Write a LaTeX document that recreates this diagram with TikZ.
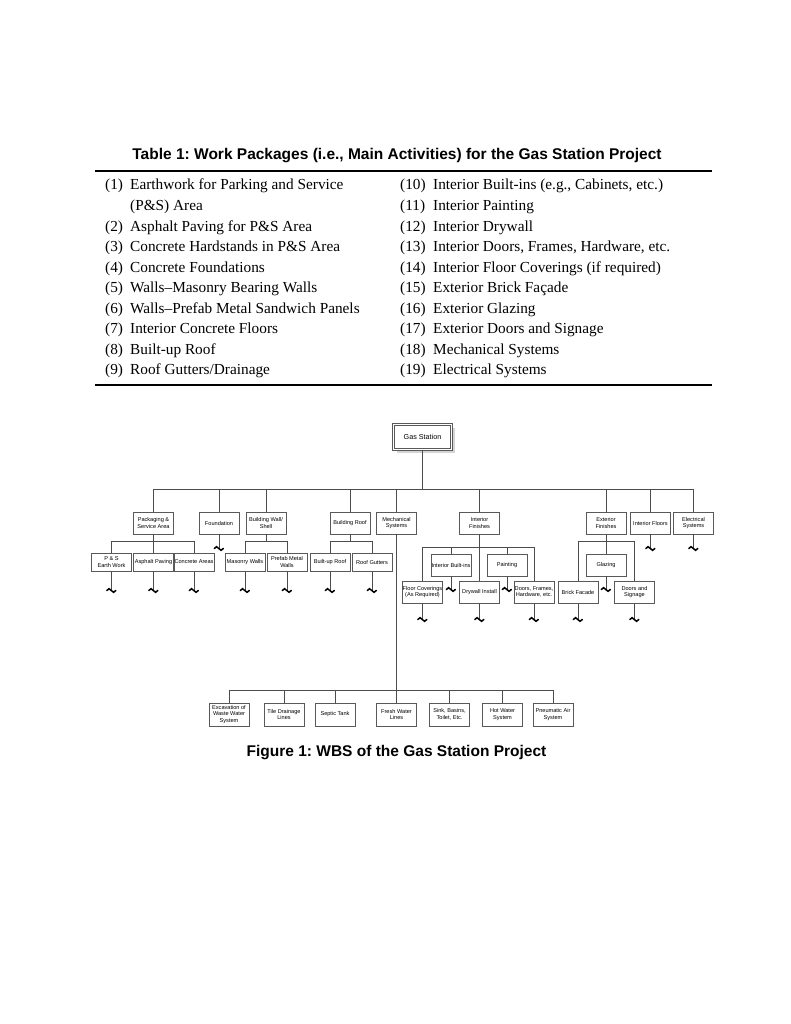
\documentclass[tikz,border=0pt]{standalone}
\usepackage{fontspec}
\setmainfont{Liberation Serif}
\setsansfont{Liberation Sans}
\usepackage{amsmath}
\usepackage{amssymb}
\usetikzlibrary{positioning,shadows}

\tikzset{
  wbs/.style={draw=gray!70!black, line width=0.6pt, fill=white, minimum width=40pt, minimum height=22pt,
    inner sep=0.3pt, align=center, font=\sffamily\fontsize{5.6}{6.4}\selectfont},
  low/.style={minimum height=18pt},
  link/.style={draw=gray!60!black, line width=0.6pt},
  tld/.style={inner sep=0pt, minimum width=9pt, minimum height=4pt},
  wave/.style={line width=1.5pt, line cap=round},
  row/.style={anchor=west, inner sep=0pt, text height=9pt, text depth=3pt, font=\fontsize{15.3}{17}\selectfont},
  head/.style={font=\sffamily\bfseries\fontsize{15.5}{17}\selectfont},
}

\begin{document}
\frenchspacing
\begin{tikzpicture}[x=1pt, y=-1pt]
\useasboundingbox[fill=white] (0,0) rectangle (791,1024);

% table of work packages
\node[head] (ttl) at (397,156)
  {Table 1: Work Packages (i.e., Main Activities) for the Gas Station Project};
\draw[line width=2pt] (95,171) -- (712,171);
\draw[line width=2.5pt] (95,385) -- (712,385);
\foreach \n/\t [count=\k from 0] in {(1)/{Earthwork for Parking and Service}, /{(P\&S) Area},
    (2)/{Asphalt Paving for P\&S Area}, (3)/{Concrete Hardstands in P\&S Area},
    (4)/{Concrete Foundations}, (5)/{Walls--Masonry Bearing Walls},
    (6)/{Walls--Prefab Metal Sandwich Panels}, (7)/{Interior Concrete Floors},
    (8)/{Built-up Roof}, (9)/{Roof Gutters/Drainage}}{
  \node[row] (ln\k) at (105,{187+20.55*\k}) {\n};
  \node[row] (lt\k) at (130,{187+20.55*\k}) {\t};
}
\foreach \n/\t [count=\k from 0] in {(10)/{Interior Built-ins (e.g., Cabinets, etc.)}, (11)/{Interior Painting},
    (12)/{Interior Drywall}, (13)/{Interior Doors, Frames, Hardware, etc.},
    (14)/{Interior Floor Coverings (if required)}, (15)/{Exterior Brick Façade},
    (16)/{Exterior Glazing}, (17)/{Exterior Doors and Signage},
    (18)/{Mechanical Systems}, (19)/{Electrical Systems}}{
  \node[row] (rn\k) at (400,{187+20.55*\k}) {\n};
  \node[row] (rt\k) at (433,{187+20.55*\k}) {\t};
}

% WBS
\node[wbs, double, double distance=1pt, minimum width=58pt, minimum height=25pt,
  drop shadow={shadow xshift=3pt, shadow yshift=-3pt, fill=gray!65},
  font=\sffamily\fontsize{7.2}{8}\selectfont] (gs) at (422.5,437) {Gas Station};

\node[wbs] (pa) at (153.5,523) {Packaging \&\\Service Area};
\node[wbs] (fd) at (219,523) {Foundation};
\node[wbs] (bw) at (266,523) {Building Wall/\\Shell};
\node[wbs] (br) at (350,523) {Building Roof};
\node[wbs] (ms) at (396.5,523) {Mechanical\\Systems};
\node[wbs] (inf) at (479.5,523) {Interior\\Finishes};
\node[wbs] (ef) at (606,523) {Exterior\\Finishes};
\node[wbs] (ifl) at (650.5,523) {Interior Floors};
\node[wbs] (es) at (693.5,523) {Electrical\\Systems};

\node[wbs, low] (pse) at (111.5,562) {P \& S\\Earth Work};
\node[wbs, low] (ap) at (153.5,562) {Asphalt Paving};
\node[wbs, low] (ca) at (194,562) {Concrete Areas};
\node[wbs, low] (mw) at (245,562) {Masonry Walls};
\node[wbs, low] (pm) at (287,562) {Prefab Metal\\Walls};
\node[wbs, low] (bu) at (330,562) {Built-up Roof};
\node[wbs, low] (rg) at (372,562) {Roof Gutters};

\node[wbs] (ib) at (451,565) {Interior Built-ins};
\node[wbs] (pt) at (507,565) {Painting};
\node[wbs] (fc) at (422.5,592) {Floor Coverings\\(As Required)};
\node[wbs] (dw) at (479.5,592) {Drywall Install};
\node[wbs] (dfh) at (534,592) {Doors, Frames,\\Hardware, etc.};

\node[wbs] (gz) at (606,565) {Glazing};
\node[wbs] (bf) at (578,592) {Brick Facade};
\node[wbs] (ds) at (634.5,592) {Doors and\\Signage};

\node[wbs, minimum height=23pt] (ex) at (229,714.5) {Excavation of\\Waste Water\\System};
\node[wbs, minimum height=23pt] (td) at (284,714.5) {Tile Drainage\\Lines};
\node[wbs, minimum height=23pt] (st) at (335,714.5) {Septic Tank};
\node[wbs, minimum height=23pt] (fw) at (396.5,714.5) {Fresh Water\\Lines};
\node[wbs, minimum height=23pt] (sb) at (449.5,714.5) {Sink, Basins,\\Toilet, Etc.};
\node[wbs, minimum height=23pt] (hw) at (502.5,714.5) {Hot Water\\System};
\node[wbs, minimum height=23pt] (pn) at (553,714.5) {Pneumatic Air\\System};

% buses
\coordinate (bus0) at (0,489);
\coordinate (bus1) at (0,541.5);
\coordinate (bus2) at (0,547);
\coordinate (bus3) at (0,690);
\draw[link] (gs.south) -- (gs.south |- bus0);
\foreach \c in {pa,fd,bw,br,ms,inf,ef,ifl,es}
  \draw[link] (\c.north) |- (gs.south |- bus0);
\draw[link] (pa) -- (ap);
\foreach \c in {pse,ca}
  \draw[link] (\c.north) |- (pa.south |- bus1);
\draw[link] (bw.south) -- (bw.south |- bus1);
\foreach \c in {mw,pm}
  \draw[link] (\c.north) |- (bw.south |- bus1);
\draw[link] (br.south) -- (br.south |- bus1);
\foreach \c in {bu,rg}
  \draw[link] (\c.north) |- (br.south |- bus1);
\draw[link] (inf) -- (dw);
\foreach \c in {fc,ib,pt,dfh}
  \draw[link] (\c.north) |- (inf.south |- bus2);
\draw[link] (ef) -- (gz);
\foreach \c in {bf,ds}
  \draw[link] (\c.north) |- (ef.south |- bus1);
\draw[link] (ms) -- (fw);
\foreach \c in {ex,td,st,sb,hw,pn}
  \draw[link] (\c.north) |- (ms.south |- bus3);

% open ends
\foreach \c/\d in {pse/17pt,ap/17pt,ca/17pt,mw/17pt,pm/17pt,bu/17pt,rg/17pt,
    fd/12pt,ifl/12pt,es/12pt,ib/11pt,pt/11pt,gz/11pt,
    fc/14pt,dw/14pt,dfh/14pt,bf/14pt,ds/14pt}{
  \node[tld, below=\d of \c] (t\c) {};
  \draw[link] (\c) -- (t\c.center);
  \draw[wave] (t\c.west) sin ++(2.25pt,1.8pt) cos ++(2.25pt,-1.8pt)
    sin ++(2.25pt,-1.8pt) cos ++(2.25pt,1.8pt);
}

\node[head] (cap) at (396.5,753) {Figure 1: WBS of the Gas Station Project};
\end{tikzpicture}
\end{document}
